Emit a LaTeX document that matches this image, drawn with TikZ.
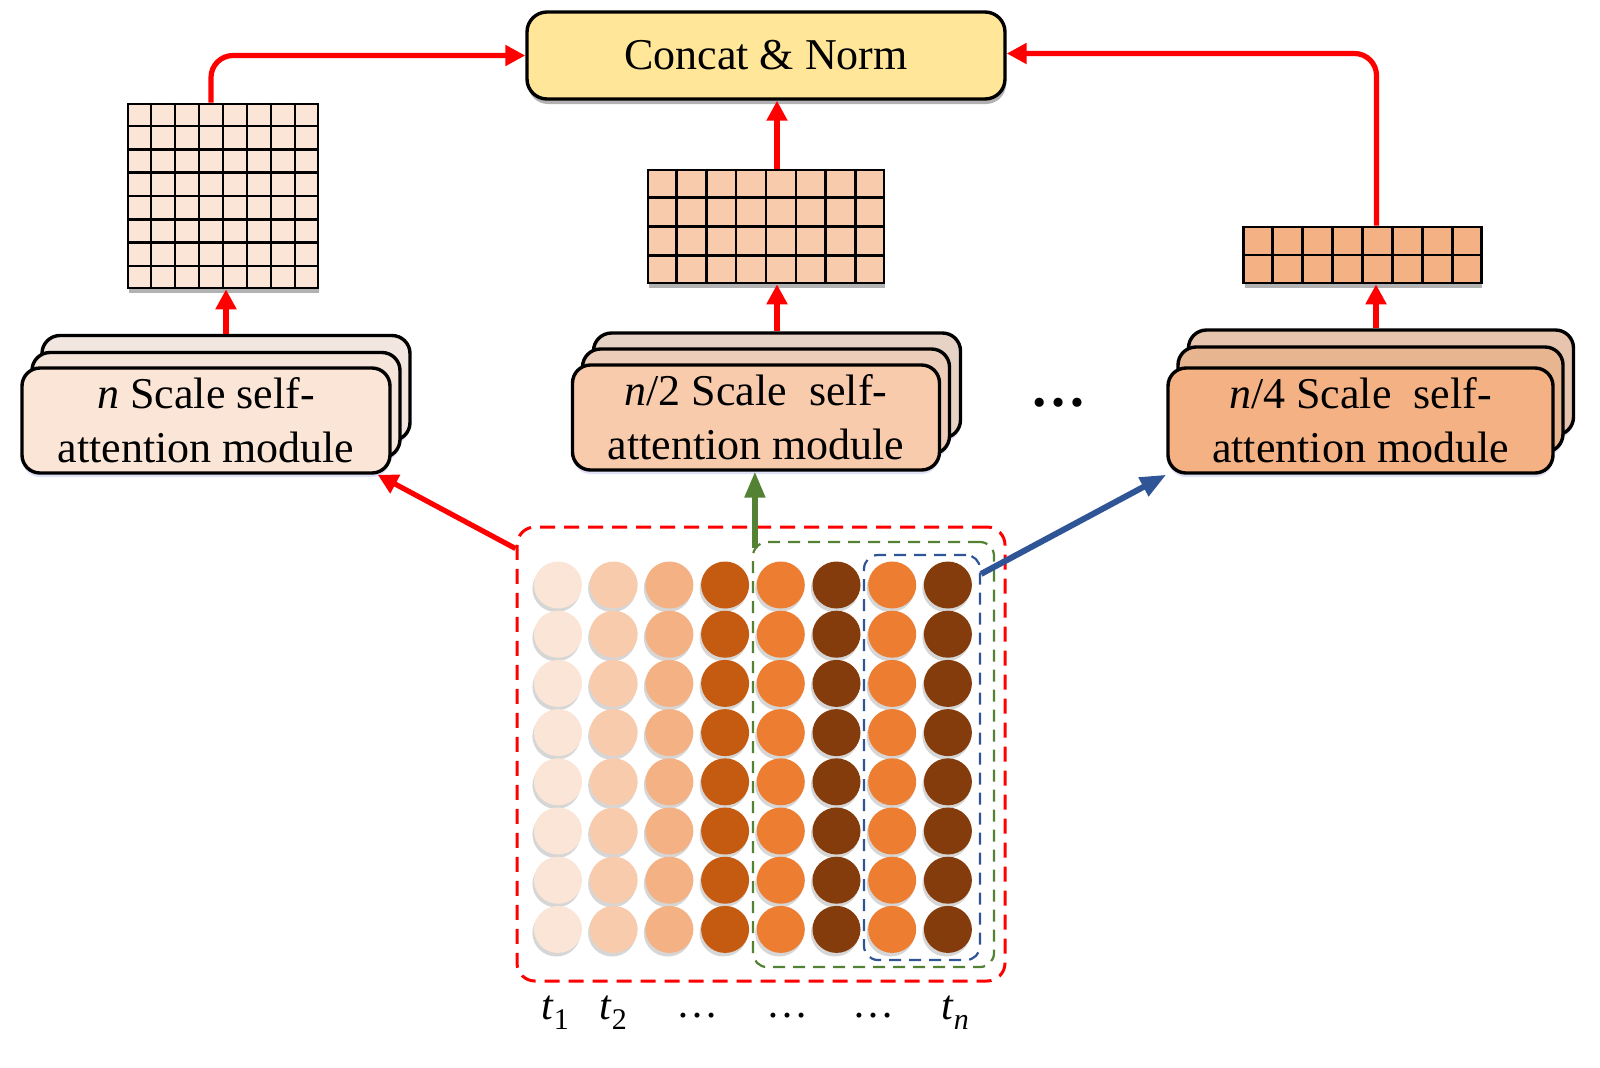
\documentclass[tikz,border=0pt]{standalone}
\usepackage{fontspec}
\setmainfont{Liberation Serif}
\usetikzlibrary{arrows.meta,shadows,calc,shapes.geometric}
\definecolor{cA}{HTML}{FBE5D6}
\definecolor{cB}{HTML}{F8CBAD}
\definecolor{cC}{HTML}{F4B183}
\definecolor{cD}{HTML}{C55A11}
\definecolor{cE}{HTML}{ED7D31}
\definecolor{cF}{HTML}{843C0C}
\definecolor{cConcat}{HTML}{FFE699}
\definecolor{cAb}{HTML}{F5E4DA}
\definecolor{cAc}{HTML}{F1E6E0}
\definecolor{cBb}{HTML}{EBCDB9}
\definecolor{cBc}{HTML}{E6D3C6}
\definecolor{cCb}{HTML}{E8B591}
\definecolor{cCc}{HTML}{E6C4AD}
\definecolor{gGreen}{HTML}{548235}
\definecolor{gBlue}{HTML}{2F5597}
\begin{document}
\begin{tikzpicture}[x=0.5pt,y=-0.5pt,
  modbox/.style={draw=black, line width=1.7pt, rounded corners=9pt, minimum height=52.5pt,
    inner sep=0pt, align=center, font=\fontsize{22}{27}\selectfont,
    drop shadow={shadow xshift=0pt, shadow yshift=-2pt, fill=gray!40!blue!30, opacity=0.5}},
  gridbox/.style={draw=black, line width=1.3pt, inner sep=0pt,
    drop shadow={shadow xshift=0.5pt, shadow yshift=-2.5pt, fill=black, opacity=0.3}},
  gridline/.style={draw=black, line width=1.25pt},
  dotnode/.style={ellipse, minimum width=24pt, minimum height=23.5pt, inner sep=0pt, draw=none,
    drop shadow={shadow xshift=-0.8pt, shadow yshift=-1.8pt, fill=gray!80, opacity=0.4}},
  redarr/.style={draw=red, line width=2.6pt, -{Triangle[length=10pt,width=10pt]}},
  grnarr/.style={draw=gGreen, line width=2.6pt, -{Triangle[length=13pt,width=10pt]}},
  bluarr/.style={draw=gBlue, line width=3pt, -{Triangle[length=13pt,width=10pt]}},
  lbl/.style={font=\fontsize{21}{24}\selectfont, anchor=base, inner sep=0pt}
]
\useasboundingbox (0,0) rectangle (1600,1067);

% Concat & Norm
\node[draw=black, line width=1.7pt, rounded corners=10pt, fill=cConcat, minimum width=239pt,
  minimum height=43.5pt, inner sep=0pt, font=\fontsize{22}{26}\selectfont,
  drop shadow={shadow xshift=0.5pt, shadow yshift=-2.5pt, fill=black, opacity=0.3}]
  (concat) at (766,55.5) {Concat \& Norm};

% grids
\node[gridbox, fill=cA, minimum width=95pt, minimum height=92pt] (g1) at (223,196) {};
\node[gridbox, fill=cB, minimum width=118pt, minimum height=56.5pt] (g2) at (766,226.5) {};
\node[gridbox, fill=cC, minimum width=118.75pt, minimum height=28pt] (g3) at (1362.5,255) {};
\foreach \k in {1,...,7} {
  \draw[gridline] ($(g1.north west)!\k/8!(g1.north east)$) -- ($(g1.south west)!\k/8!(g1.south east)$);
  \draw[gridline] ($(g1.north west)!\k/8!(g1.south west)$) -- ($(g1.north east)!\k/8!(g1.south east)$);
  \draw[gridline] ($(g2.north west)!\k/8!(g2.north east)$) -- ($(g2.south west)!\k/8!(g2.south east)$);
  \draw[gridline] ($(g3.north west)!\k/8!(g3.north east)$) -- ($(g3.south west)!\k/8!(g3.south east)$);
}
\foreach \k in {1,2,3} {
  \draw[gridline] ($(g2.north west)!\k/4!(g2.south west)$) -- ($(g2.north east)!\k/4!(g2.south east)$);
}
\draw[gridline] (g3.west) -- (g3.east);

% modules (back layers first)
\node[modbox, fill=cAc, minimum width=184pt] (m1c) at (226,388) {};
\node[modbox, fill=cAb, minimum width=184pt] (m1b) at (216,405) {};
\node[modbox, fill=cA, minimum width=184pt] (m1) at (206,420.5) {\textit{n} Scale self-\\attention module};

\node[modbox, fill=cBc, minimum width=183.5pt] (m2c) at (777,385.5) {};
\node[modbox, fill=cBb, minimum width=183.5pt] (m2b) at (766,401.5) {};
\node[modbox, fill=cB, minimum width=183.5pt] (m2) at (756,417.5) {\textit{n}/2 Scale\ \ self-\\attention module};

\node[modbox, fill=cCc, minimum width=192.5pt] (m3c) at (1381,382.5) {};
\node[modbox, fill=cCb, minimum width=192.5pt] (m3b) at (1370.5,399.5) {};
\node[modbox, fill=cC, minimum width=192.5pt] (m3) at (1360.5,420.5) {\textit{n}/4 Scale\ \ self-\\attention module};

\node[font=\fontsize{28}{30}\selectfont\bfseries, inner sep=0pt] (mdots) at (1058,403) {…};

% token circles
\foreach \i/\col in {0/cA,1/cB,2/cC,3/cD,4/cE,5/cF,6/cE,7/cF} {
  \foreach \j in {0,...,7} {
    \node[dotnode, fill=\col] (d\i\j) at ({558+55.7*\i},{585+49.2*\j}) {};
  }
}

% dashed groups
\node[draw=red, line width=1.5pt, dash pattern=on 7.5pt off 4.5pt, rounded corners=9pt,
  minimum width=244pt, minimum height=227pt, inner sep=0pt] (rb) at (761,754) {};
\node[draw=gGreen, line width=1.1pt, dash pattern=on 6pt off 4pt, rounded corners=7pt,
  minimum width=120.5pt, minimum height=212.5pt, inner sep=0pt] (gb) at (873.5,754.5) {};
\node[draw=gBlue, line width=1.1pt, dash pattern=on 6pt off 4pt, rounded corners=7pt,
  minimum width=58pt, minimum height=202.5pt, inner sep=0pt] (bb) at (922,757.5) {};

% labels
\node[lbl] (t1) at (555,1019) {\textit{t}\raisebox{-0.25em}{\fontsize{15}{15}\selectfont 1}};
\node[lbl] (t2) at (613,1019) {\textit{t}\raisebox{-0.25em}{\fontsize{15}{15}\selectfont 2}};
\node[lbl] (e1) at (697,1017) {…};
\node[lbl] (e2) at (787,1017) {…};
\node[lbl] (e3) at (873,1017) {…};
\node[lbl] (tn) at (955,1019) {\textit{t}\raisebox{-0.25em}{\fontsize{15}{15}\selectfont\itshape n}};

% arrows: modules -> grids -> concat
\draw[redarr] (m1c.north) -- (m1c.north |- g1.south);
\draw[redarr] (m2c.north) -- (m2c.north |- g2.south);
\draw[redarr] ([xshift=-2.5pt]m3c.north) -- ([xshift=-2.5pt]m3c.north |- g3.south);
\draw[redarr, rounded corners=11pt] ([xshift=-6pt]g1.north) |- (concat.west);
\draw[redarr] ([xshift=5.5pt]g2.north) -- ([xshift=5.5pt]g2.north |- concat.south);
\draw[redarr, rounded corners=11pt] ([xshift=7pt]g3.north) |- ([yshift=1pt]concat.east);

% arrows: token groups -> modules
\draw[redarr] ([yshift=-11.5pt]rb.north west) -- ([xshift=-7pt]m1.south east);
\draw[grnarr] ([xshift=1.5pt,yshift=-3.5pt]gb.north west) -- ([xshift=1.5pt]gb.north west |- m2.south);
\draw[bluarr] ([yshift=-10pt]bb.north east) -- (m3.south west);
\end{tikzpicture}
\end{document}
